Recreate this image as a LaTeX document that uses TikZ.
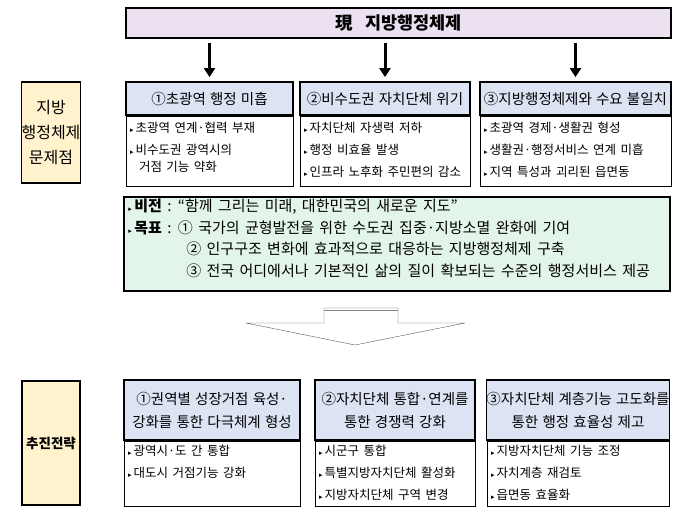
\documentclass[tikz,border=0pt]{standalone}
\usepackage{fontspec}
\setmainfont{Noto Sans CJK KR}[WordSpace=1.6]
\newfontfamily\hdfont{Noto Sans CJK KR}[WordSpace=1.3]
\newfontfamily\symfont{DejaVu Sans}
\usetikzlibrary{arrows.meta}
\newcommand{\bl}{{\symfont\scriptsize ▸}\,}
\definecolor{topfill}{HTML}{EBE1F1}
\definecolor{hdfill}{HTML}{DCE4F4}
\definecolor{sidefill}{HTML}{FFF2CC}
\definecolor{visfill}{HTML}{E3F4EA}

\begin{document}
\begin{tikzpicture}[x=1pt,y=-1pt,
  box/.style={draw, line width=1.8pt, inner sep=0pt},
  hd/.style={box, fill=hdfill, font=\hdfont\fontsize{14.5}{23}\selectfont, align=center},
  bodytxt/.style={anchor=north west, font=\fontsize{12.5}{22}\selectfont, align=left, inner sep=0pt},
  dn/.style={-{Triangle[length=9pt,width=11pt]}, line width=3pt}]
  \useasboundingbox (0,0) rectangle (694,520);

  % top
  \node (top) [box, fill=topfill, minimum width=545pt, minimum height=30pt,
    font=\fontsize{17.5}{18}\selectfont\bfseries] at (398.5,23) {現\ \ 지방행정체제};

  % problem side label
  \node (prob) [box, fill=sidefill, minimum width=58pt, minimum height=101pt,
    align=center, font=\fontsize{16}{25}\selectfont] at (51,132.5) {지방\\행정체제\\문제점};

  % problem headers
  \node (h1) [hd, minimum width=167pt, minimum height=33pt] at (209.5,98.5) {①초광역 행정 미흡};
  \node (h2) [hd, minimum width=170pt, minimum height=33pt] at (385,98.5) {②비수도권 자치단체 위기};
  \node (h3) [hd, minimum width=191pt, minimum height=33pt] at (575.5,98.5) {③지방행정체제와 수요 불일치};
  \node (b1) [draw, minimum width=167pt, minimum height=70pt, anchor=north] at (h1.south) {};
  \node (b2) [draw, minimum width=170pt, minimum height=70pt, anchor=north] at (h2.south) {};
  \node (b3) [draw, minimum width=191pt, minimum height=70pt, anchor=north] at (h3.south) {};
  \node (t1) [bodytxt] at ([xshift=4pt,yshift=-6pt]b1.north west)
    {\bl 초광역 연계·협력 부재\\\bl 비수도권 광역시의\\[-5pt]\hspace{9pt}거점 기능 약화};
  \node (t2) [bodytxt] at ([xshift=4pt,yshift=-6pt]b2.north west)
    {\bl 자치단체 자생력 저하\\\bl 행정 비효율 발생\\\bl 인프라 노후화 주민편의 감소};
  \node (t3) [bodytxt] at ([xshift=4pt,yshift=-6pt]b3.north west)
    {\bl 초광역 경제·생활권 형성\\\bl 생활권·행정서비스 연계 미흡\\\bl 지역 특성과 괴리된 읍면동};

  \draw[dn] (top.south -| h1) ++(0,4) -- ([yshift=4pt]h1.north);
  \draw[dn] (top.south -| h2) ++(0,4) -- ([yshift=4pt]h2.north);
  \draw[dn] (top.south -| h3) ++(0,4) -- ([yshift=4pt]h3.north);

  % vision
  \node (vis) [box, fill=visfill, minimum width=546pt, minimum height=94pt] at (397,244) {};
  \node (vtxt) [bodytxt, font=\fontsize{15}{21.5}\selectfont] at ([xshift=5pt,yshift=-3pt]vis.north west)
    {\bl\textbf{비전} : “함께 그리는 미래, 대한민국의 새로운 지도”\\
     \bl\textbf{목표} : ① 국가의 균형발전을 위한 수도권 집중·지방소멸 완화에 기여\\
     \hspace{58pt}② 인구구조 변화에 효과적으로 대응하는 지방행정체제 구축\\
     \hspace{58pt}③ 전국 어디에서나 기본적인 삶의 질이 확보되는 수준의 행정서비스 제공};

  % block arrow
  \draw[fill=white, draw=gray!70!black] (324,308) -- (398,308) -- (398,323) -- (465,323)
    -- (355,345) -- (246,323) -- (324,323) -- cycle;
  \draw[gray] (324,310.5) -- (398,310.5);

  % strategy side label
  \node (strat) [box, fill=sidefill, minimum width=58pt, minimum height=124pt,
    font=\fontsize{13.5}{18}\selectfont\bfseries] at (51,443) {추진전략};

  % strategy headers
  \node (s1) [hd, minimum width=176pt, minimum height=60pt] at (212,410) {①권역별 성장거점 육성·\\강화를 통한 다극체계 형성};
  \node (s2) [hd, minimum width=160pt, minimum height=60pt] at (395,410) {②자치단체 통합·연계를\\통한 경쟁력 강화};
  \node (s3) [hd, minimum width=182pt, minimum height=60pt] at (578,410) {③자치단체 계층기능 고도화를\\통한 행정 효율성 제고};
  \node (c1) [draw, minimum width=176pt, minimum height=65pt, anchor=north] at (s1.south) {};
  \node (c2) [draw, minimum width=160pt, minimum height=65pt, anchor=north] at (s2.south) {};
  \node (c3) [draw, minimum width=182pt, minimum height=65pt, anchor=north] at (s3.south) {};
  \node (u1) [bodytxt] at ([xshift=4pt,yshift=-4pt]c1.north west)
    {\bl 광역시·도 간 통합\\\bl 대도시 거점기능 강화};
  \node (u2) [bodytxt] at ([xshift=4pt,yshift=-4pt]c2.north west)
    {\bl 시군구 통합\\\bl 특별지방자치단체 활성화\\\bl 지방자치단체 구역 변경};
  \node (u3) [bodytxt] at ([xshift=4pt,yshift=-4pt]c3.north west)
    {\bl 지방자치단체 기능 조정\\\bl 자치계층 재검토\\\bl 읍면동 효율화};
\end{tikzpicture}
\end{document}
